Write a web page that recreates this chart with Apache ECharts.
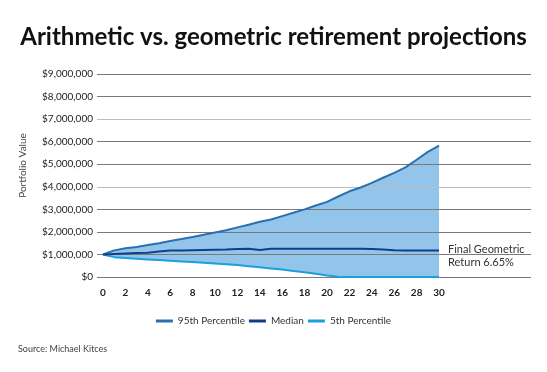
<!DOCTYPE html>
<html><head><meta charset="utf-8">
<script src="https://cdn.jsdelivr.net/npm/echarts@6/dist/echarts.min.js"></script>
<style>html,body{margin:0;padding:0;background:#fff}#c{width:547px;height:372px}</style>
</head><body><div id="c"></div>
<script>
const years = [0,1,2,3,4,5,6,7,8,9,10,11,12,13,14,15,16,17,18,19,20,21,22,23,24,25,26,27,28,29,30];
const p95 = [1.0,1.18,1.27,1.33,1.42,1.5,1.6,1.68,1.77,1.87,1.97,2.07,2.2,2.32,2.45,2.55,2.7,2.85,3.0,3.17,3.33,3.57,3.8,3.97,4.17,4.4,4.62,4.86,5.2,5.55,5.82];
const median = [1.0,1.02,1.04,1.06,1.08,1.13,1.17,1.18,1.19,1.2,1.21,1.22,1.24,1.25,1.2,1.25,1.25,1.25,1.25,1.25,1.25,1.25,1.25,1.25,1.24,1.22,1.19,1.17,1.17,1.17,1.17];
const p5 = [1.0,0.88,0.84,0.81,0.78,0.75,0.72,0.69,0.66,0.63,0.6,0.57,0.53,0.48,0.43,0.38,0.33,0.27,0.21,0.14,0.07,0.01,0,0,0,0,0,0,0,0,0];
const xTicks = [0,2,4,6,8,10,12,14,16,18,20,22,24,26,28,30];
const yTicks = [0,1,2,3,4,5,6,7,8,9];
const lightGrid = [4,7];

const M = 1e6;
const pts = arr => years.map((y,i)=>[y, arr[i]*M]);
const fmt = v => '$' + Math.round(v).toLocaleString('en-US');
const font = 'Lato, "Open Sans", sans-serif';

const chart = echarts.init(document.getElementById('c'));
chart.setOption({
  animation:false,
  title:{text:'Arithmetic vs. geometric retirement projections',left:'center',top:20,
    textStyle:{fontFamily:font,fontWeight:'bold',fontSize:24,color:'#111'}},
  grid:{left:97,right:16,top:74,bottom:95,containLabel:false},
  legend:{top:311,left:'center',itemWidth:17,itemHeight:3,itemGap:4,icon:'rect',
    data:['95th Percentile','Median','5th Percentile'],
    textStyle:{fontFamily:font,fontSize:10,color:'#333'}},
  xAxis:{type:'value',min:-0.536,max:38.21,
    axisLine:{show:false},axisTick:{show:false},splitLine:{show:false},
    axisLabel:{customValues:xTicks,fontFamily:font,fontSize:10,color:'#222',margin:11,fontWeight:'bold'}},
  yAxis:{type:'value',min:0,max:9*M,interval:M,name:'Portfolio Value',nameLocation:'middle',nameGap:69,
    nameTextStyle:{fontFamily:font,fontSize:10,color:'#444',padding:[0,0,0,20]},
    axisLine:{show:false},axisTick:{show:false},
    axisLabel:{formatter:fmt,fontFamily:font,fontSize:10,color:'#222',margin:4},
    splitLine:{show:false}},
  series:[
    {type:'line',data:[],silent:true,symbol:'none',
     markLine:{silent:true,symbol:'none',label:{show:false},
       data:yTicks.map(t=>({yAxis:t*M,lineStyle:{color:lightGrid.includes(t)?'#bdbdbd':'#7a7a7a',width:1,type:'solid'}}))},z:1},
    {name:'band',type:'custom',data:[0],silent:true,z:2,
     renderItem:(params,api)=>{
       const up = years.map((y,i)=>api.coord([y,p95[i]*M]));
       const lo = years.map((y,i)=>api.coord([y,p5[i]*M])).reverse();
       return {type:'polygon',shape:{points:up.concat(lo)},style:{fill:'#93c5eb'}};
     }},
    {name:'95th Percentile',type:'line',data:pts(p95),symbol:'none',lineStyle:{color:'#2a70b1',width:2},itemStyle:{color:'#2a70b1'},z:5},
    {name:'Median',type:'line',data:pts(median),symbol:'none',lineStyle:{color:'#103f8a',width:2},itemStyle:{color:'#103f8a'},z:6},
    {name:'5th Percentile',type:'line',data:pts(p5),symbol:'none',lineStyle:{color:'#1aa0df',width:2},itemStyle:{color:'#1aa0df'},z:5}
  ],
  graphic:[
    {type:'text',left:448,top:243,style:{text:'Final Geometric\nReturn 6.65%',fontFamily:font,fontSize:11,lineHeight:13,fill:'#333'}},
    {type:'text',left:18,top:345,style:{text:'Source: Michael Kitces',fontFamily:font,fontSize:9,fill:'#444'}}
  ]
});
</script></body></html>
